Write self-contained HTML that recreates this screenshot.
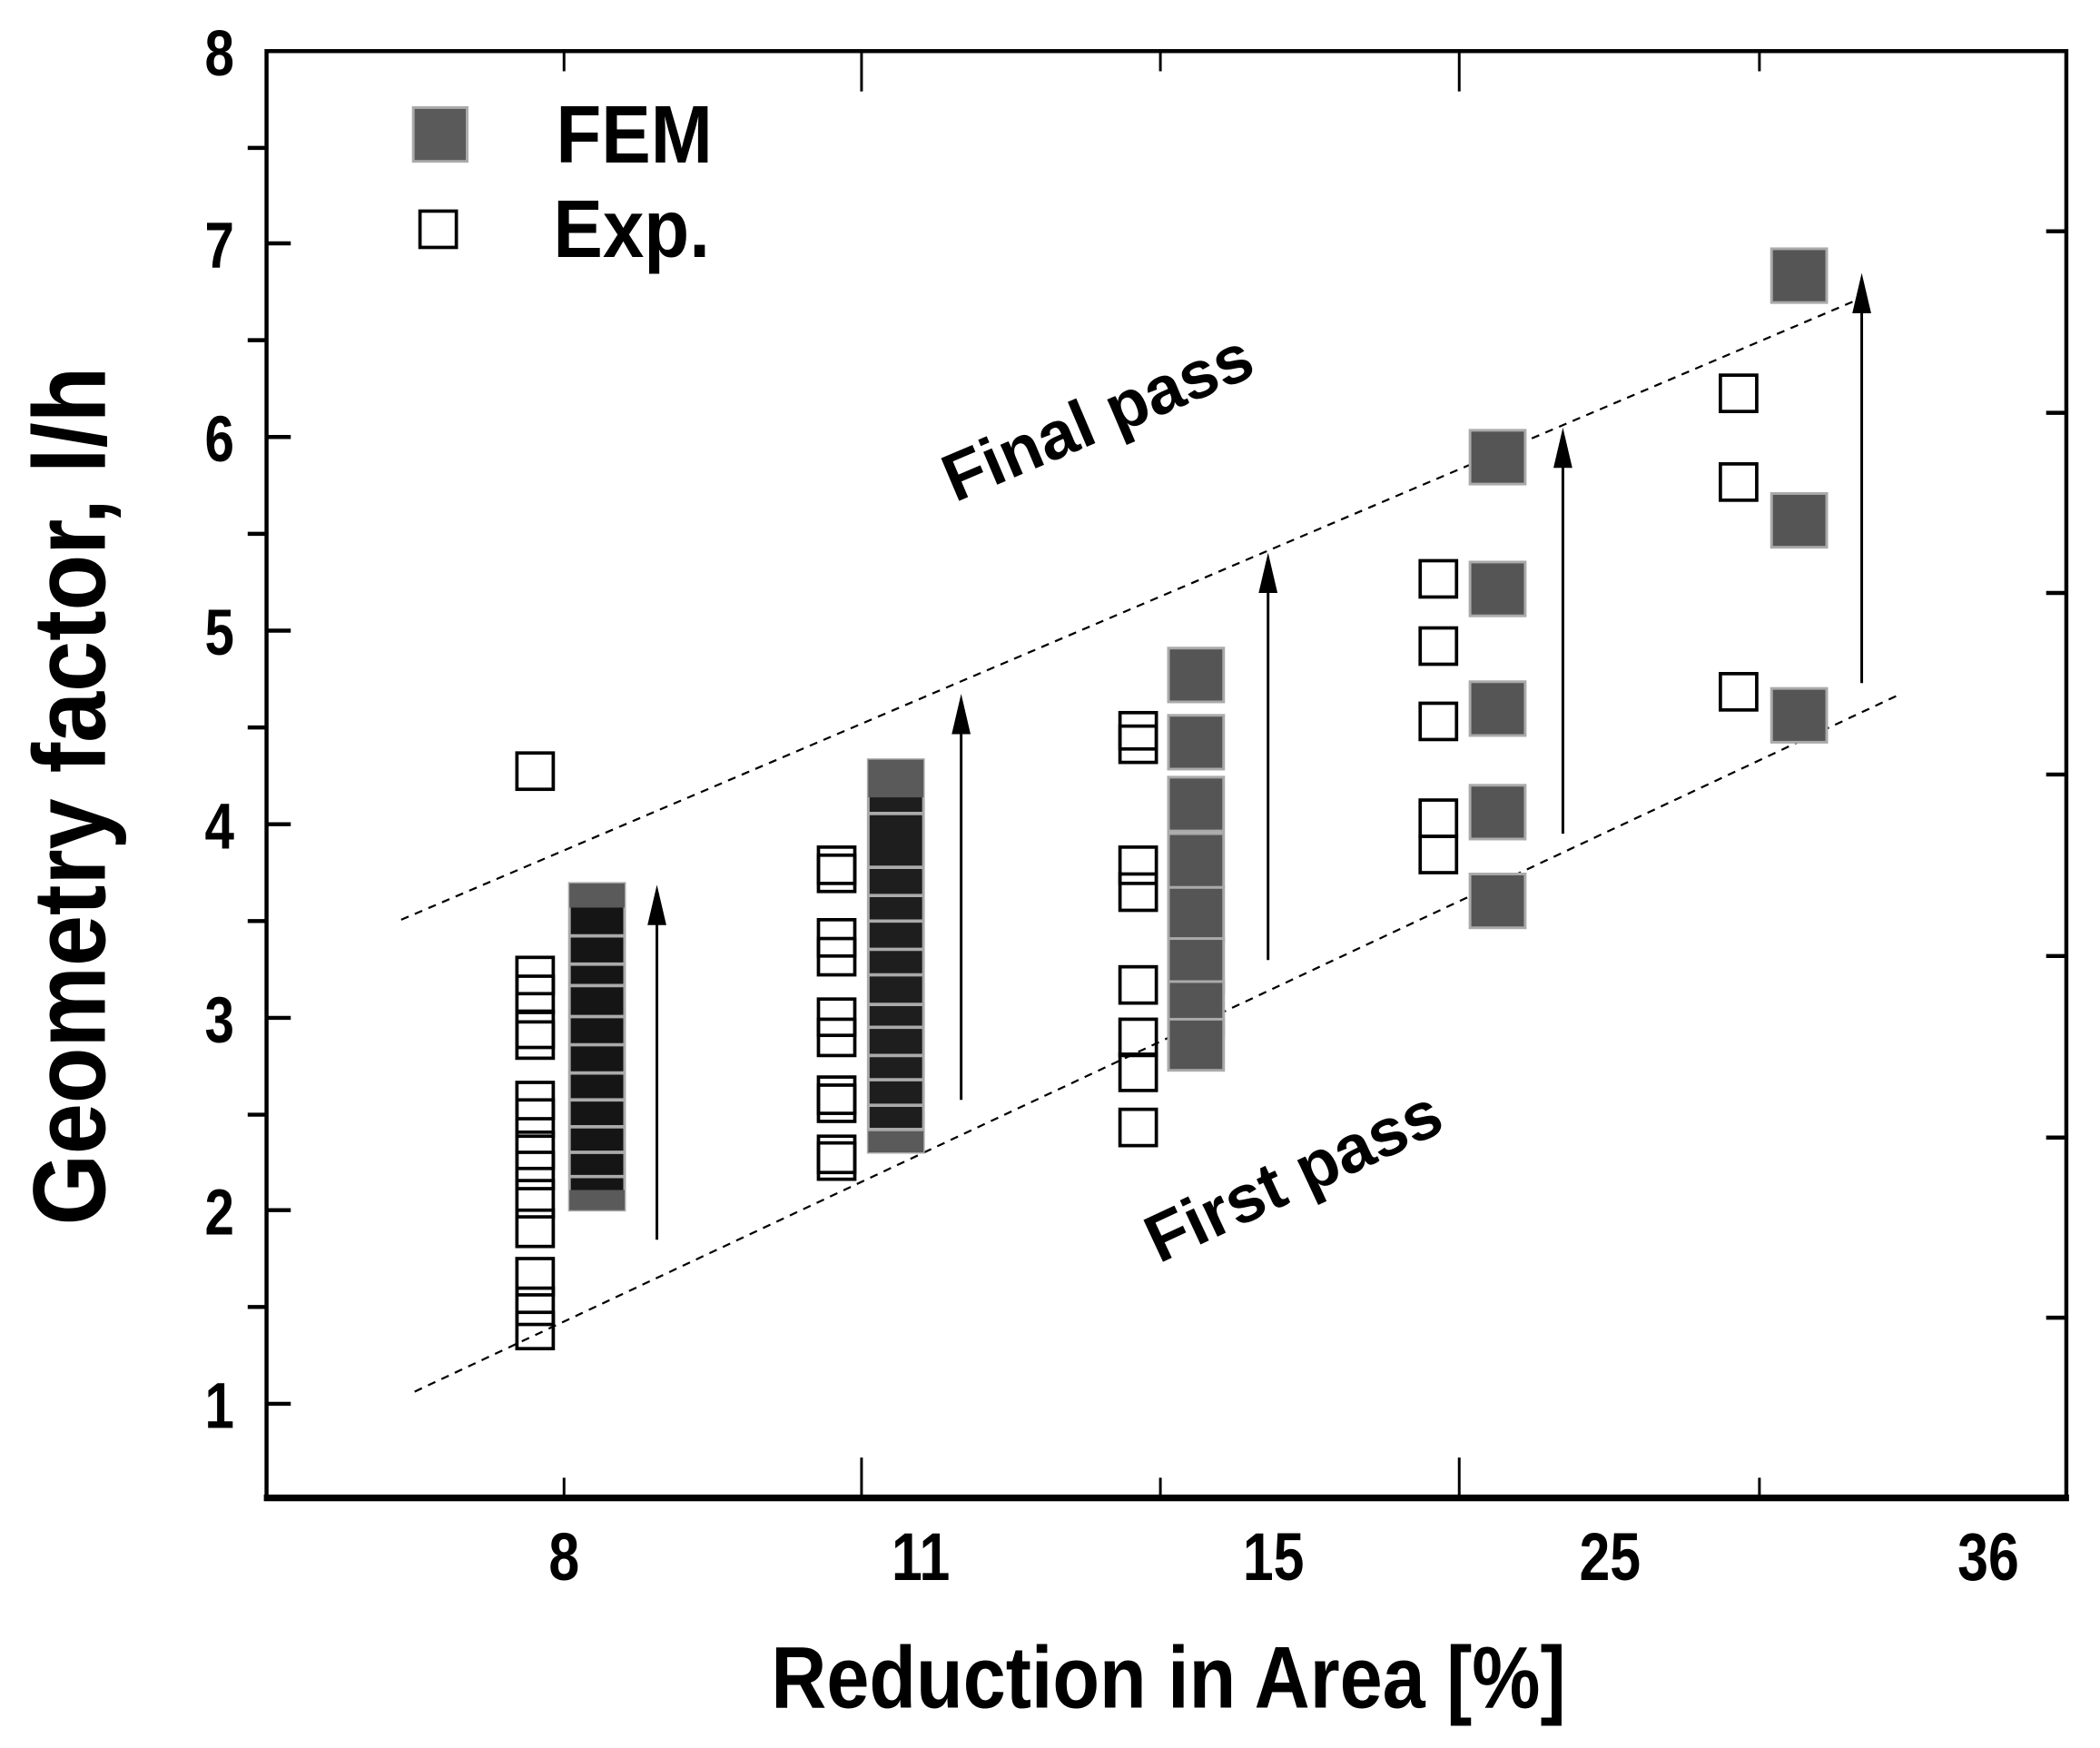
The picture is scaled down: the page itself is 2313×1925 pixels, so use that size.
<!DOCTYPE html>
<html><head><meta charset="utf-8"><style>
html,body{margin:0;padding:0;background:#fff;}
svg{display:block;}
text{font-family:"Liberation Sans",Arial,sans-serif;font-weight:bold;fill:#000;}
</style></head><body>
<svg width="2313" height="1925" viewBox="0 0 1560 1300" preserveAspectRatio="none" xmlns="http://www.w3.org/2000/svg">
<rect width="1560" height="1300" fill="#fff"/>
<rect x="198" y="38" width="1337" height="1076" fill="none" stroke="#000" stroke-width="3"/>
<line x1="196" y1="1114" x2="1537" y2="1114" stroke="#000" stroke-width="5"/>
<g stroke="#000" stroke-width="3">
<line x1="198" y1="181" x2="216" y2="181"/><line x1="198" y1="325" x2="216" y2="325"/>
<line x1="198" y1="469" x2="216" y2="469"/><line x1="198" y1="613" x2="216" y2="613"/>
<line x1="198" y1="757" x2="216" y2="757"/><line x1="198" y1="900" x2="216" y2="900"/>
<line x1="198" y1="1044" x2="216" y2="1044"/>
<line x1="184" y1="110" x2="198" y2="110"/><line x1="184" y1="253" x2="198" y2="253"/>
<line x1="184" y1="397" x2="198" y2="397"/><line x1="184" y1="541" x2="198" y2="541"/>
<line x1="184" y1="685" x2="198" y2="685"/><line x1="184" y1="829" x2="198" y2="829"/>
<line x1="184" y1="972" x2="198" y2="972"/>
<line x1="1520" y1="172" x2="1535" y2="172"/><line x1="1520" y1="307" x2="1535" y2="307"/>
<line x1="1520" y1="441" x2="1535" y2="441"/><line x1="1520" y1="576" x2="1535" y2="576"/>
<line x1="1520" y1="711" x2="1535" y2="711"/><line x1="1520" y1="846" x2="1535" y2="846"/>
<line x1="1520" y1="980" x2="1535" y2="980"/>
</g>
<g stroke="#000" stroke-width="2">
<line x1="419" y1="1114" x2="419" y2="1099"/><line x1="640" y1="1114" x2="640" y2="1084"/>
<line x1="862" y1="1114" x2="862" y2="1099"/><line x1="1084" y1="1114" x2="1084" y2="1084"/>
<line x1="1307" y1="1114" x2="1307" y2="1099"/>
<line x1="419" y1="38" x2="419" y2="53"/><line x1="640" y1="38" x2="640" y2="68"/>
<line x1="862" y1="38" x2="862" y2="53"/><line x1="1084" y1="38" x2="1084" y2="68"/>
<line x1="1307" y1="38" x2="1307" y2="53"/>
</g>
<g font-size="48" text-anchor="end">
<text transform="translate(174,56) scale(0.82,1)">8</text>
<text transform="translate(174,199) scale(0.82,1)">7</text>
<text transform="translate(174,343) scale(0.82,1)">6</text>
<text transform="translate(174,487) scale(0.82,1)">5</text>
<text transform="translate(174,631) scale(0.82,1)">4</text>
<text transform="translate(174,775) scale(0.82,1)">3</text>
<text transform="translate(174,918) scale(0.82,1)">2</text>
<text transform="translate(174,1062) scale(0.82,1)">1</text>
</g>
<g font-size="50" text-anchor="middle">
<text transform="translate(419,1175) scale(0.82,1)">8</text>
<text transform="translate(684,1175) scale(0.82,1)">11</text>
<text transform="translate(946,1175) scale(0.82,1)">15</text>
<text transform="translate(1196,1175) scale(0.82,1)">25</text>
<text transform="translate(1477,1175) scale(0.82,1)">36</text>
</g>
<text transform="translate(868,1270) scale(0.92,1.05)" font-size="62" text-anchor="middle">Reduction in Area [%]</text>
<text transform="translate(78,592) rotate(-90) scale(1,1.12)" font-size="68" text-anchor="middle">Geometry factor, l/h</text>
<rect x="307" y="80" width="40" height="40" fill="#5a5a5a" stroke="#aaa" stroke-width="2"/>
<text transform="translate(413,121) scale(0.95,1.05)" font-size="58">FEM</text>
<rect x="312" y="157" width="27" height="27" fill="none" stroke="#000" stroke-width="2.5"/>
<text transform="translate(411,191) scale(0.95,1.05)" font-size="58">Exp.</text>
<g stroke="#000" stroke-width="1.5" stroke-dasharray="6,5">
<line x1="298" y1="684" x2="1382" y2="222"/>
<line x1="308" y1="1035" x2="1410" y2="517"/>
</g>
<g stroke="#000" stroke-width="2">
<line x1="488" y1="922" x2="488" y2="675"/><line x1="714" y1="818" x2="714" y2="533"/>
<line x1="942" y1="714" x2="942" y2="428"/><line x1="1161" y1="620" x2="1161" y2="335"/>
<line x1="1383" y1="508" x2="1383" y2="220"/>
</g>
<g fill="#000">
<polygon points="488,658 481,688 495,688"/><polygon points="714,516 707,546 721,546"/>
<polygon points="942,411 935,441 949,441"/><polygon points="1161,318 1154,348 1168,348"/>
<polygon points="1383,203 1376,233 1390,233"/>
</g>
<text transform="translate(822,326) rotate(-23)" font-size="50" text-anchor="middle">Final pass</text>
<text transform="translate(968,890) rotate(-25)" font-size="50" text-anchor="middle">First pass</text>
<g stroke="#aaa" stroke-width="2">
<rect x="423" y="657" width="41" height="243" fill="#151515"/>
<rect x="423" y="657" width="41" height="18" fill="#5a5a5a" stroke="none"/>
<rect x="645" y="565" width="41" height="292" fill="#1e1e1e"/>
<rect x="645" y="565" width="41" height="28" fill="#5a5a5a" stroke="none"/>
<rect x="645" y="840" width="41" height="17" fill="#5a5a5a" stroke="none"/>
<rect x="423" y="885" width="41" height="15" fill="#5a5a5a" stroke="none"/>
</g>
<g stroke="#aaa" stroke-width="2.5">
<line x1="423" y1="696" x2="464" y2="696"/><line x1="423" y1="717" x2="464" y2="717"/>
<line x1="423" y1="733" x2="464" y2="733"/><line x1="423" y1="756" x2="464" y2="756"/>
<line x1="423" y1="777" x2="464" y2="777"/><line x1="423" y1="798" x2="464" y2="798"/>
<line x1="423" y1="818" x2="464" y2="818"/><line x1="423" y1="838" x2="464" y2="838"/>
<line x1="423" y1="857" x2="464" y2="857"/><line x1="423" y1="875" x2="464" y2="875"/>
<line x1="645" y1="605" x2="686" y2="605"/><line x1="645" y1="645" x2="686" y2="645"/>
<line x1="645" y1="666" x2="686" y2="666"/><line x1="645" y1="685" x2="686" y2="685"/>
<line x1="645" y1="706" x2="686" y2="706"/><line x1="645" y1="725" x2="686" y2="725"/>
<line x1="645" y1="747" x2="686" y2="747"/><line x1="645" y1="764" x2="686" y2="764"/>
<line x1="645" y1="785" x2="686" y2="785"/><line x1="645" y1="803" x2="686" y2="803"/>
<line x1="645" y1="822" x2="686" y2="822"/><line x1="645" y1="840" x2="686" y2="840"/>
</g>
<g fill="#555" stroke="#aaa" stroke-width="2">
<rect x="868" y="482" width="41" height="40"/><rect x="868" y="532" width="41" height="40"/>
<rect x="868" y="578" width="41" height="40"/><rect x="868" y="620" width="41" height="40"/>
<rect x="868" y="660" width="41" height="40"/><rect x="868" y="698" width="41" height="40"/>
<rect x="868" y="730" width="41" height="40"/><rect x="868" y="758" width="41" height="38"/>
<rect x="1092" y="320" width="41" height="40"/><rect x="1092" y="418" width="41" height="40"/>
<rect x="1092" y="507" width="41" height="40"/><rect x="1092" y="584" width="41" height="40"/>
<rect x="1092" y="650" width="41" height="40"/>
<rect x="1316" y="185" width="41" height="40"/><rect x="1316" y="367" width="41" height="40"/>
<rect x="1316" y="512" width="41" height="40"/>
</g>
<g fill="none" stroke="#000" stroke-width="2.5">
<rect x="384" y="560" width="27" height="27"/>
<rect x="384" y="712" width="27" height="27"/><rect x="384" y="726" width="27" height="27"/>
<rect x="384" y="752" width="27" height="27"/><rect x="384" y="760" width="27" height="27"/>
<rect x="384" y="805" width="27" height="27"/><rect x="384" y="818" width="27" height="27"/>
<rect x="384" y="842" width="27" height="27"/><rect x="384" y="857" width="27" height="27"/>
<rect x="384" y="878" width="27" height="27"/><rect x="384" y="900" width="27" height="27"/>
<rect x="384" y="936" width="27" height="27"/><rect x="384" y="958" width="27" height="27"/>
<rect x="384" y="976" width="27" height="27"/>
<rect x="608" y="630" width="27" height="27"/><rect x="608" y="636" width="27" height="27"/>
<rect x="608" y="684" width="27" height="27"/><rect x="608" y="698" width="27" height="27"/>
<rect x="608" y="743" width="27" height="27"/><rect x="608" y="758" width="27" height="27"/>
<rect x="608" y="801" width="27" height="27"/><rect x="608" y="807" width="27" height="27"/>
<rect x="608" y="845" width="27" height="27"/><rect x="608" y="850" width="27" height="27"/>
<rect x="832" y="530" width="27" height="27"/><rect x="832" y="540" width="27" height="27"/>
<rect x="832" y="630" width="27" height="27"/><rect x="832" y="650" width="27" height="27"/>
<rect x="832" y="719" width="27" height="27"/><rect x="832" y="758" width="27" height="27"/>
<rect x="832" y="784" width="27" height="27"/><rect x="832" y="825" width="27" height="27"/>
<rect x="1055" y="417" width="27" height="27"/><rect x="1055" y="467" width="27" height="27"/>
<rect x="1055" y="523" width="27" height="27"/><rect x="1055" y="595" width="27" height="27"/>
<rect x="1055" y="622" width="27" height="27"/>
<rect x="1278" y="279" width="27" height="27"/><rect x="1278" y="345" width="27" height="27"/>
<rect x="1278" y="501" width="27" height="27"/>
</g>
</svg>
</body></html>
